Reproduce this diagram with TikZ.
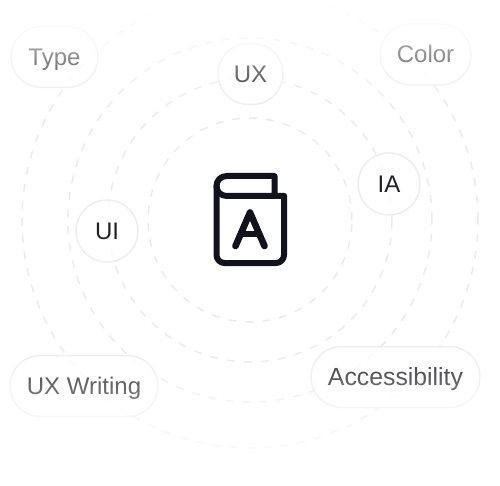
\documentclass[tikz,border=0pt]{standalone}
\usepackage{xcolor}
\usepackage{fontspec}
\setmainfont{Liberation Sans}
\usepackage{tikz}
\usetikzlibrary{fadings}
\definecolor{ringLine}{RGB}{235,235,237}
\definecolor{pillLine}{RGB}{238,238,240}
\definecolor{ink}{RGB}{18,18,28}
\definecolor{labelInk}{RGB}{34,34,38}
\tikzfading[name=fadeTop, top color=transparent!0, bottom color=transparent!100]
\tikzfading[name=fadeBottom, top color=transparent!100, bottom color=transparent!0]
\tikzset{
  ring/.style={draw=ringLine, line width=1.5pt, dash pattern=on 8pt off 9pt},
  topic/.style={
    draw=pillLine,
    line width=1.5pt,
    fill=white,
    fill opacity=.8,
    text opacity=1,
    text=labelInk,
    inner sep=0pt,
    text height=17pt,
    text depth=0pt,
    font=\fontsize{24}{28}\selectfont
  },
  bubble/.style={topic, circle, minimum size=62pt},
  pill/.style={topic, rounded corners=30.5pt, minimum height=61pt},
  bookLine/.style={draw=ink, line width=6pt, line join=round, line cap=round}
}
\begin{document}
\begin{tikzpicture}[x=1pt, y=-1pt]
  \useasboundingbox (0,0) rectangle (500,486);
  \clip (0,0) rectangle (500,486);
  \coordinate (hub) at (250,220);

  \foreach \r in {102,142,182,228}
    \draw[ring] (hub) circle[radius=\r pt];

  \node[pill, minimum width=65pt] (ux) at (250.5,74) {UX};
  \node[bubble] (ia) at (389,184) {IA};
  \node[bubble] (ui) at (107,231) {UI};
  \node[pill, minimum width=87pt] (type) at (54.5,57) {Type};
  \node[pill, minimum width=91pt] (color) at (425.5,54.5) {Color};
  \node[pill, minimum width=148pt] (writing) at (84,386) {UX Writing};
  \node[pill, minimum width=169pt, font=\fontsize{24.8}{28}\selectfont] (access) at (395.5,377) {Accessibility};

  % book icon
  \draw[bookLine] (284,196) -- (227,196)
    .. controls (220.5,196) and (216.5,191.5) .. (216.5,186)
    .. controls (216.5,180.5) and (220.5,176) .. (227,176)
    -- (274.5,176) -- (274.5,196);
  \draw[bookLine, rounded corners=8pt] (216.5,186) -- (216.5,263) -- (284,263) -- (284,196);
  \draw[bookLine, line width=6.6pt] (235.5,246) -- (250,212.5) -- (264.5,246);
  \draw[bookLine] (241,234) -- (259,234);

  % fade towards top and bottom
  \fill[white, path fading=fadeTop] (0,0) rectangle (500,110);
  \fill[white, path fading=fadeBottom] (0,340) rectangle (500,486);
\end{tikzpicture}
\end{document}
